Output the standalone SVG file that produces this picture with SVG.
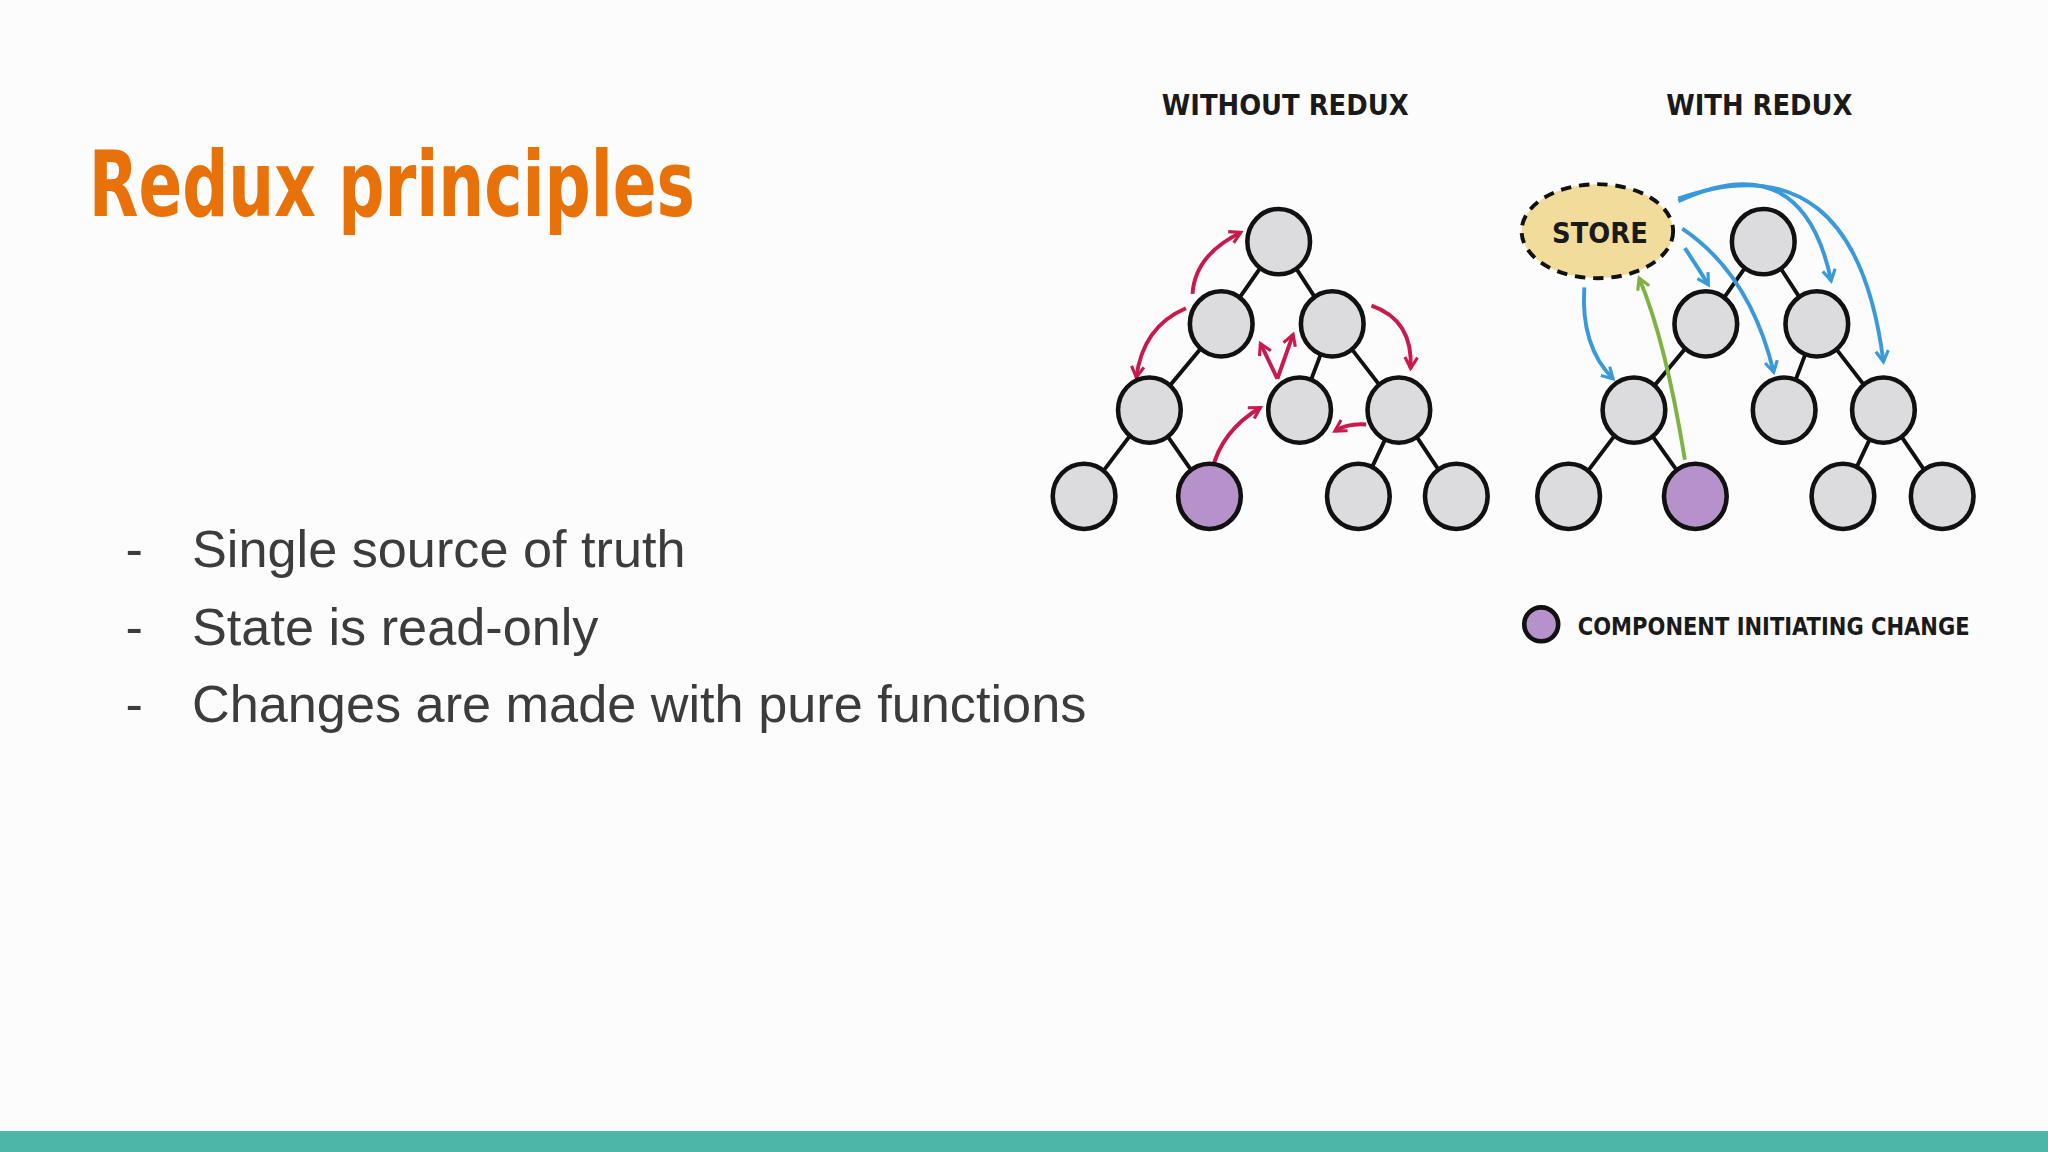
<svg xmlns="http://www.w3.org/2000/svg" width="2048" height="1152" viewBox="0 0 2048 1152">
<defs>
<style>
.n{fill:#dcdcdf;stroke:#111;stroke-width:3.5}
.p{fill:#b592c9;stroke:#111;stroke-width:3.5}
.e{stroke:#111;stroke-width:3;fill:none}
.r{stroke:#c81a4c;stroke-width:3;fill:none;marker-end:url(#mr)}
.b{stroke:#3a9ad9;stroke-width:3;fill:none;marker-end:url(#mb)}
.g{stroke:#7cb342;stroke-width:3;fill:none;marker-end:url(#mg)}
.h{font-family:"DejaVu Sans Condensed","DejaVu Sans",sans-serif;font-weight:bold;fill:#1a1a1a}
.t{font-family:"Liberation Sans",Arial,sans-serif;fill:#3c3c3c;font-size:40px}
</style>
<marker id="mr" viewBox="0 0 10 10" refX="8" refY="5" markerWidth="4" markerHeight="4" orient="auto"><path d="M1,1 L8,5 L1,9" fill="none" stroke="#c81a4c" stroke-width="2"/></marker>
<marker id="mb" viewBox="0 0 10 10" refX="8" refY="5" markerWidth="4" markerHeight="4" orient="auto"><path d="M1,1 L8,5 L1,9" fill="none" stroke="#3a9ad9" stroke-width="2"/></marker>
<marker id="mg" viewBox="0 0 10 10" refX="8" refY="5" markerWidth="4" markerHeight="4" orient="auto"><path d="M1,1 L8,5 L1,9" fill="none" stroke="#7cb342" stroke-width="2"/></marker>
</defs>
<rect width="2048" height="1152" fill="#fdfcfd"/>
<rect y="1131" width="2048" height="21" fill="#4db6a8"/>
<g transform="scale(1.30612)">
<text x="68" y="165" font-family="'DejaVu Sans Condensed',sans-serif" font-weight="bold" font-size="70" fill="#e8710a" textLength="464" lengthAdjust="spacingAndGlyphs">Redux principles</text>
<g id="bullets">
<text x="96" y="434" class="t">-</text><text x="147" y="434" class="t">Single source of truth</text>
<text x="96" y="494" class="t">-</text><text x="147" y="494" class="t">State is read-only</text>
<text x="96" y="553" class="t">-</text><text x="147" y="553" class="t">Changes are made with pure functions</text>
</g>
<text x="984" y="88" class="h" font-size="22" text-anchor="middle">WITHOUT REDUX</text>
<text x="1347" y="88" class="h" font-size="22" text-anchor="middle">WITH REDUX</text>
<g id="connectors">
<path class="e" d="M979,185L935,248M979,185L1020,248M935,248L880,314M1020,248L995,314M1020,248L1071,314M880,314L830,380M880,314L926,380M1071,314L1040,380M1071,314L1115,380"/>
<path class="e" d="M1350,185L1306,248M1350,185L1391,248M1306,248L1251,314M1391,248L1366,314M1391,248L1442,314M1251,314L1201,380M1251,314L1298,380M1442,314L1411,380M1442,314L1487,380"/>
<path class="r" d="M913,225 Q915,195 950,178"/>
<path class="r" d="M908,236 Q875,250 870,289"/>
<path class="r" d="M1050,234 Q1082,245 1080,282"/>
<path class="r" d="M978,290 L965,263"/>
<path class="r" d="M978,290 L990,256"/>
<path class="r" d="M928,360 Q935,330 965,312"/>
<path class="r" d="M1046,325 Q1032,324 1022,330"/>
<path class="b" d="M1285,154 Q1380,110 1402,215"/>
<path class="b" d="M1285,152 Q1420,105 1442,277"/>
<path class="b" d="M1288,175 Q1340,210 1358,285"/>
<path class="b" d="M1290,190 Q1300,205 1308,218"/>
<path class="b" d="M1213,220 Q1210,265 1235,290"/>
<path class="g" d="M1290,352 Q1275,260 1255,213"/>
</g>
<g id="store"><ellipse cx="1223" cy="177" rx="58" ry="36" fill="#f1dc9b" stroke="#111" stroke-width="3" stroke-dasharray="8 6"/><text x="1225" y="186" class="h" font-size="22" text-anchor="middle">STORE</text></g>
<g id="n1"><ellipse class="n" cx="979" cy="185" rx="24" ry="25"/></g>
<g id="n2"><ellipse class="n" cx="935" cy="248" rx="24" ry="25"/></g>
<g id="n3"><ellipse class="n" cx="1020" cy="248" rx="24" ry="25"/></g>
<g id="n4"><ellipse class="n" cx="880" cy="314" rx="24" ry="25"/></g>
<g id="n5"><ellipse class="n" cx="995" cy="314" rx="24" ry="25"/></g>
<g id="n6"><ellipse class="n" cx="1071" cy="314" rx="24" ry="25"/></g>
<g id="n7"><ellipse class="n" cx="830" cy="380" rx="24" ry="25"/></g>
<g id="n8"><ellipse class="p" cx="926" cy="380" rx="24" ry="25"/></g>
<g id="n9"><ellipse class="n" cx="1040" cy="380" rx="24" ry="25"/></g>
<g id="n10"><ellipse class="n" cx="1115" cy="380" rx="24" ry="25"/></g>
<g id="m1"><ellipse class="n" cx="1350" cy="185" rx="24" ry="25"/></g>
<g id="m2"><ellipse class="n" cx="1306" cy="248" rx="24" ry="25"/></g>
<g id="m3"><ellipse class="n" cx="1391" cy="248" rx="24" ry="25"/></g>
<g id="m4"><ellipse class="n" cx="1251" cy="314" rx="24" ry="25"/></g>
<g id="m5"><ellipse class="n" cx="1366" cy="314" rx="24" ry="25"/></g>
<g id="m6"><ellipse class="n" cx="1442" cy="314" rx="24" ry="25"/></g>
<g id="m7"><ellipse class="n" cx="1201" cy="380" rx="24" ry="25"/></g>
<g id="m8"><ellipse class="p" cx="1298" cy="380" rx="24" ry="25"/></g>
<g id="m9"><ellipse class="n" cx="1411" cy="380" rx="24" ry="25"/></g>
<g id="m10"><ellipse class="n" cx="1487" cy="380" rx="24" ry="25"/></g>
<g id="legend"><circle class="p" cx="1180" cy="478" r="13"/><text x="1208" y="486" class="h" font-size="19" textLength="300" lengthAdjust="spacingAndGlyphs">COMPONENT INITIATING CHANGE</text></g>
</g>
</svg>
